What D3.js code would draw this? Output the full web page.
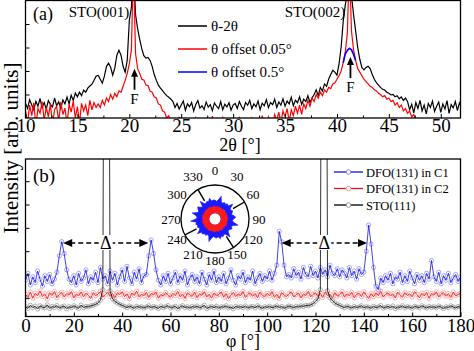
<!DOCTYPE html>
<html>
<head>
<meta charset="utf-8">
<script src="https://cdn.jsdelivr.net/npm/d3@7"></script>
<style>
body { margin: 0; background: #fff; }
</style>
</head>
<body>
<div id="chart"></div>
<script>
// ---- (a) 2theta scans: log10 intensity, one value every 0.2 deg from 10 deg
const scanStart = 10, scanStep = 0.2;
const theta2theta = [
  0.62,0.41,0.78,0.55,0.35,0.71,0.50,0.83,0.44,0.66,
  0.38,0.74,0.58,0.47,0.85,0.52,0.69,0.40,0.77,0.60,
  0.89,0.60,0.97,0.75,1.06,0.90,1.10,0.95,1.19,1.10,
  1.27,1.36,1.44,1.61,1.78,1.82,1.65,1.48,1.78,2.20,
  2.33,2.16,1.82,2.12,2.67,2.88,2.67,2.20,
  1.95,2.46,4.15,4.70,6.50,4.40,3.80,3.35,2.95,2.65,
  2.55,2.58,2.45,2.20,1.85,1.60,1.40,1.27,1.16,1.05,
  0.95,0.88,0.80,
  0.70,0.45,0.62,0.38,0.55,0.72,0.33,0.60,0.48,0.66,
  0.30,0.58,0.74,0.42,0.52,0.36,0.68,0.46,0.57,0.31,
  0.64,0.50,0.40,0.70,0.35,0.59,0.47,0.65,0.33,0.55,
  0.62,0.41,0.70,0.50,0.36,0.66,0.54,0.75,0.40,0.60,
  0.48,0.72,0.35,0.63,0.52,0.78,0.44,0.66,0.57,0.80,
  0.45,0.68,0.55,0.82,0.50,0.72,0.60,0.88,0.52,0.76,
  0.65,0.90,0.58,0.80,0.70,0.95,0.66,0.85,1.00,
  1.20,0.95,1.30,1.15,1.45,1.35,1.65,1.85,2.03,1.95,
  1.82,2.30,3.00,4.10,4.80,5.30,6.50,5.20,4.40,3.70,
  3.00,2.50,2.15,2.05,2.15,2.20,2.10,1.85,1.65,1.50,
  1.40,1.30,1.22,1.19,1.10,1.05,0.98,1.00,0.90,0.95,
  0.82,0.90,0.75,0.85,
  0.70,0.35,0.58,0.22,0.66,0.41,0.75,0.30,0.55,0.18,
  0.62,0.45,0.72,0.28,0.50,0.68,0.24,0.60,0.38,0.74,
  0.20,0.57,0.43,0.70,0.32,0.64,0.47
];
const thetaOffset005 = [
  0.30,-0.20,0.55,0.10,0.65,-0.35,0.40,0.20,0.70,-0.10,
  0.45,0.05,0.60,-0.30,0.35,0.50,-0.15,0.68,0.15,0.42,
  -0.25,0.58,0.25,0.72,0.00,0.48,-0.20,0.62,0.30,0.55,
  0.10,0.75,0.35,0.66,0.45,
  0.60,0.45,0.75,0.55,0.85,0.70,1.00,0.80,1.05,0.90,
  1.15,1.10,1.35,1.60,1.90,2.30,2.90,6.50,2.75,2.10,
  1.90,1.65,1.62,1.40,1.38,1.15,1.10,0.90,0.85,0.60,
  0.55,0.30,0.25,0.00,0.10,-0.20,
  -0.30,-0.10,-0.45,0.05,-0.25,-0.50,-0.05,-0.35,-0.15,-0.55,
  -0.20,0.00,-0.40,-0.10,-0.30,-0.60,-0.05,-0.25,-0.45,0.08,
  -0.35,-0.15,-0.50,-0.20,0.02,-0.40,-0.10,-0.30,-0.55,-0.05,
  -0.25,-0.45,0.05,-0.30,-0.15,-0.50,-0.10,-0.35,0.00,-0.20,
  -0.40,-0.05,-0.30,0.10,-0.25,-0.45,0.05,-0.15,-0.35,0.15,
  -0.10,0.25,-0.20,0.30,0.05,0.40,-0.15,0.35,0.10,0.50,
  0.20,0.55,0.15,0.60,0.40,0.75,0.50,0.85,0.70,1.00,
  0.85,1.10,0.95,1.20,1.10,1.30,1.25,1.45,1.50,1.65,
  1.80,2.00,2.35,2.80,3.60,6.50,3.70,2.90,2.45,2.10,
  1.95,1.80,1.65,1.55,1.45,1.35,1.30,1.20,1.15,1.05,
  1.00,0.90,0.95,0.80,0.85,0.70,0.75,
  0.55,0.65,0.45,0.55,0.30,0.40,0.20,0.30,0.05,0.15,
  -0.10,-0.30,0.00,-0.45,-0.20,-0.50,-0.10,-0.35,-0.55,-0.25,-0.40,
  -0.15,-0.50,-0.30,-0.60,-0.20,-0.45,-0.10,-0.35,-0.50,-0.25,-0.40,-0.30
];
const blueStart = 40.6;
const thetaOffset05 = [2.35,2.72,2.88,2.97,2.90,2.70,2.45];

const seriesA = ["θ-2θ", "θ offset 0.05°", "θ offset 0.5°"];
const colorsA = ["#000000", "#ff0000", "#0000ff"];
const ticksA = [10,15,20,25,30,35,40,45,50];
const minorA = [12.5,17.5,22.5,27.5,32.5,37.5,42.5,47.5];

// ---- (b) phi scans: one value per degree, 0..180
const phiStep = 1;
const dfoC1 = [
  1.75,2.05,1.55,1.90,1.65,2.15,1.80,1.50,1.95,1.70,
  2.00,1.60,1.80,2.10,2.80,3.41,2.90,2.20,1.80,1.65,
  1.95,1.55,2.05,1.70,1.85,2.20,1.60,1.90,1.75,2.10,
  1.65,2.30,1.80,1.95,1.60,2.15,1.75,2.05,1.55,1.90,
  2.20,1.70,2.35,1.85,1.60,2.10,1.80,2.25,1.65,1.95,
  2.00,2.80,3.48,2.90,2.20,1.75,1.55,1.95,1.70,2.05,
  1.60,1.85,2.10,1.65,1.95,1.75,2.15,1.55,1.85,2.00,
  1.70,1.90,1.60,2.10,1.80,1.55,2.00,1.75,2.15,1.65,
  1.90,1.70,2.05,1.60,1.85,2.20,1.75,1.55,1.95,1.80,
  2.10,1.65,1.90,1.75,2.15,1.60,1.85,2.05,1.70,1.95,
  1.80,2.15,1.75,2.05,2.40,3.85,3.40,2.40,1.90,2.00,
  1.85,2.25,1.95,2.10,1.80,2.30,2.00,1.90,2.35,1.95,
  2.15,1.85,2.30,2.00,2.20,1.90,2.40,2.05,1.95,2.25,
  1.90,2.20,2.05,1.85,2.30,1.95,2.15,1.80,2.25,2.00,
  2.10,3.00,4.12,3.30,2.30,1.50,1.35,1.85,1.65,1.95,
  1.75,2.05,1.60,1.90,1.80,2.10,1.65,1.95,1.70,2.15,
  1.85,1.60,2.00,1.75,1.95,1.65,2.05,1.80,2.60,1.90,
  1.70,2.10,1.60,1.95,1.75,2.05,1.65,1.85,2.00,1.70,1.90
];
const dfoC2 = [
  1.15,1.02,1.25,0.98,1.20,1.08,1.30,1.05,1.18,0.95,
  1.22,1.10,1.28,1.00,1.15,1.24,1.03,1.19,1.12,1.27,
  0.99,1.17,1.08,1.26,1.04,1.20,1.11,0.97,1.23,1.09,
  1.16,1.28,1.02,1.14,1.25,1.06,1.19,1.00,1.22,1.13,
  1.27,1.05,1.18,0.96,1.21,1.10,1.29,1.03,1.16,1.08,
  1.24,1.01,1.19,1.12,1.26,0.98,1.15,1.07,1.23,1.11,
  1.02,1.20,1.09,1.28,1.04,1.17,0.97,1.22,1.13,1.06,
  1.25,1.00,1.18,1.10,1.27,1.03,1.16,0.99,1.21,1.08,
  1.14,1.26,1.02,1.19,0.96,1.12,1.24,1.05,1.17,1.09,
  1.28,1.01,1.15,1.22,1.06,1.19,1.00,1.25,1.11,1.04,
  1.20,1.08,1.27,1.02,1.16,0.97,1.23,1.12,1.05,1.18,
  1.26,1.03,1.14,1.21,0.99,1.17,1.09,1.28,1.04,1.15,
  1.22,1.06,1.19,1.01,1.25,1.10,1.16,0.98,1.23,1.07,
  1.13,1.27,1.02,1.18,1.08,1.24,1.00,1.15,1.20,1.05,
  1.26,1.11,0.97,1.19,1.04,1.22,1.09,1.28,1.03,1.16,
  1.21,1.07,1.18,0.99,1.25,1.12,1.02,1.23,1.10,1.17,
  1.04,1.27,1.14,1.00,1.20,1.08,1.24,0.97,1.19,1.11,
  1.26,1.03,1.16,1.22,1.06,1.18,1.01,1.25,1.09,1.14,1.20
];
const sto111 = [
  0.62,0.55,0.68,0.58,0.64,0.52,0.66,0.60,0.57,0.70,
  0.54,0.63,0.59,0.67,0.56,0.61,0.65,0.53,0.62,0.58,
  0.66,0.60,0.55,0.69,0.58,0.63,0.61,0.66,0.68,0.72,
  0.78,0.90,1.35,30,30,1.30,0.95,0.85,0.78,0.72,
  0.68,0.63,0.58,0.65,0.60,0.55,0.64,0.59,0.62,0.56,
  0.61,0.66,0.57,0.63,0.60,0.54,0.65,0.58,0.62,0.67,
  0.56,0.60,0.64,0.53,0.61,0.66,0.58,0.62,0.55,0.63,
  0.59,0.65,0.57,0.61,0.68,0.54,0.60,0.63,0.58,0.64,
  0.55,0.62,0.60,0.66,0.57,0.61,0.53,0.64,0.59,0.62,
  0.58,0.65,0.56,0.61,0.63,0.57,0.66,0.60,0.55,0.62,
  0.59,0.64,0.57,0.61,0.66,0.58,0.63,0.55,0.60,0.65,
  0.62,0.57,0.64,0.60,0.66,0.63,0.68,0.66,0.70,0.75,
  0.85,0.95,1.35,30,30,1.30,1.00,0.88,0.78,0.72,
  0.68,0.62,0.58,0.65,0.60,0.56,0.63,0.59,0.61,0.66,
  0.57,0.62,0.60,0.55,0.64,0.58,0.61,0.67,0.56,0.60,
  0.63,0.58,0.65,0.54,0.61,0.59,0.66,0.57,0.62,0.60,
  0.55,0.64,0.60,0.58,0.66,0.61,0.56,0.63,0.59,0.62,
  0.57,0.65,0.60,0.54,0.62,0.58,0.66,0.61,0.56,0.63,0.60
];
const seriesB = ["DFO(131) in C1", "DFO(131) in C2", "STO(111)"];
const lineColorsB = ["#1010e0", "#ee1010", "#000000"];
const markColorsB = ["#8080ff", "#ff9090", "#909090"];
const ticksB = [0,20,40,60,80,100,120,140,160,180];
const minorB = [10,30,50,70,90,110,130,150,170];
const deltaSpans = [[15.6, 50.8], [106, 141.3]];
const deltaLevel = 3.35;

// ---- polar inset: one value every 5 deg
const polarStep = 5;
const polarC1 = [
  4.6,4.2,4.8,6.3,4.5,4.1,4.7,4.3,4.9,4.4,
  6.1,4.6,4.2,4.8,4.4,4.0,4.7,5.3,4.5,4.1,
  4.6,6.4,4.7,4.3,4.9,4.4,4.1,4.6,6.2,4.5,
  4.2,4.8,4.4,5.2,4.3,4.7,4.5,4.1,4.8,6.2,
  4.4,4.0,4.6,4.3,4.9,4.5,6.0,4.6,4.2,4.8,
  4.4,5.0,4.5,6.6,4.7,4.3,4.8,6.3,4.6,4.2,
  4.9,5.4,4.4,4.1,6.1,4.6,4.3,4.8,4.5,5.5,
  4.4,4.7
];
const polarC2 = [
  2.30,2.10,2.45,2.20,2.50,2.15,2.35,2.05,2.40,2.25,
  2.55,2.10,2.30,2.45,2.00,2.35,2.20,2.50,2.15,2.40,
  2.25,2.05,2.45,2.30,2.55,2.10,2.35,2.20,2.00,2.40,
  2.50,2.15,2.30,2.45,2.10,2.35,2.25,2.55,2.05,2.40,
  2.20,2.30,2.50,2.15,2.35,2.00,2.45,2.25,2.40,2.10,
  2.30,2.55,2.20,2.35,2.05,2.45,2.25,2.50,2.15,2.40,
  2.00,2.30,2.45,2.20,2.35,2.10,2.50,2.25,2.40,2.15,
  2.30,2.45
];
const stoPolarPeaks = [60, 147, 242, 330];
const polarLabels = [0,30,60,90,120,150,180,210,240,270,300,330];

// ---------------------------------------------------------------
const W = 474, H = 351;
const svg = d3.select("#chart").append("svg")
  .attr("width", W).attr("height", H);

// scales
const xA = d3.scaleLinear().domain([10, 51.9]).range([25.5, 460.5]);
const yA = d3.scaleLinear().domain([0, 5]).range([118, 0.5]);
const xB = d3.scaleLinear().domain([0, 180]).range([25.5, 460.5]);
const yB = d3.scaleLinear().domain([0.2, 6.95]).range([316.5, 159]);

const defs = svg.append("defs");
defs.append("clipPath").attr("id", "clipA").append("rect")
  .attr("x", 25.5).attr("y", 0.5).attr("width", 435).attr("height", 117.5);
defs.append("clipPath").attr("id", "clipB").append("rect")
  .attr("x", 25.5).attr("y", 159).attr("width", 435).attr("height", 157.5);

// ---------------- panel (a)
const gA = svg.append("g");
const plotA = gA.append("g").attr("clip-path", "url(#clipA)");

const lineA = start => d3.line()
  .x((d, i) => xA(start + i * scanStep))
  .y(d => yA(d));

plotA.append("path").datum(theta2theta)
  .attr("d", lineA(scanStart)).attr("fill", "none")
  .attr("stroke", colorsA[0]).attr("stroke-width", 1.2);
plotA.append("path").datum(thetaOffset005)
  .attr("d", lineA(scanStart)).attr("fill", "none")
  .attr("stroke", colorsA[1]).attr("stroke-width", 1.2);
plotA.append("path").datum(thetaOffset05)
  .attr("d", lineA(blueStart)).attr("fill", "none")
  .attr("stroke", colorsA[2]).attr("stroke-width", 1.6);

// axes (ticks point inward)
const axA = gA.append("g").attr("transform", "translate(0,118)")
  .call(d3.axisBottom(xA).tickValues(ticksA).tickSize(-4).tickPadding(0));
gA.append("g").attr("transform", "translate(0,118)")
  .call(d3.axisBottom(xA).tickValues(minorA).tickSize(-2.5).tickFormat(""));
gA.append("g").attr("transform", "translate(25.5,0)")
  .call(d3.axisLeft(yA).tickValues([1, 2, 3, 4]).tickSize(-4).tickFormat(""));
axA.selectAll("text").attr("font-size", 19);

gA.append("rect").attr("x", 25.5).attr("y", 0.5).attr("width", 435).attr("height", 117.5)
  .attr("fill", "none").attr("stroke", "#000").attr("stroke-width", 1.3);

gA.append("text").attr("x", 240).attr("y", 151).attr("text-anchor", "middle")
  .attr("font-size", 18).text("2θ [°]");
gA.append("text").attr("x", 33).attr("y", 20).attr("font-size", 18).text("(a)");
gA.append("text").attr("x", xA(20.0)).attr("y", 17).attr("text-anchor", "end")
  .attr("font-size", 15).text("STO(001)");
gA.append("text").attr("x", xA(40.8)).attr("y", 17).attr("text-anchor", "end")
  .attr("font-size", 15).text("STO(002)");

// F arrows
const fArrows = [{t: 20.5, tail: 1.2, tip: 2.1}, {t: 41.3, tail: 1.7, tip: 2.6}];
fArrows.forEach(f => {
  const x = xA(f.t), y0 = yA(f.tail), y1 = yA(f.tip);
  gA.append("line").attr("x1", x).attr("x2", x).attr("y1", y0).attr("y2", y1 + 6)
    .attr("stroke", "#000").attr("stroke-width", 1.8);
  gA.append("path").attr("d", `M${x},${y1}L${x - 3.5},${y1 + 8}L${x + 3.5},${y1 + 8}Z`)
    .attr("fill", "#000");
  gA.append("text").attr("x", x).attr("y", y0 + 14).attr("text-anchor", "middle")
    .attr("font-size", 15).text("F");
});

// legend (a)
seriesA.forEach((name, i) => {
  const y = 26 + i * 23;
  gA.append("line").attr("x1", 178).attr("x2", 207).attr("y1", y).attr("y2", y)
    .attr("stroke", colorsA[i]).attr("stroke-width", 1.5);
  gA.append("text").attr("x", 211).attr("y", y + 5)
    .attr("font-size", 15).text(name);
});

// ---------------- panel (b)
const gB = svg.append("g");
const plotB = gB.append("g").attr("clip-path", "url(#clipB)");
const lineB = d3.line().x((d, i) => xB(i * phiStep)).y(d => yB(d));

[dfoC1, dfoC2, sto111].forEach((arr, k) => {
  const s = plotB.append("g");
  s.selectAll("circle").data(arr).join("circle")
    .attr("cx", (d, i) => xB(i * phiStep)).attr("cy", d => yB(d)).attr("r", 2.1)
    .attr("fill", "none").attr("stroke", markColorsB[k]).attr("stroke-width", 0.7);
  s.append("path").datum(arr).attr("d", lineB).attr("fill", "none")
    .attr("stroke", lineColorsB[k]).attr("stroke-width", 0.8);
});

const axB = gB.append("g").attr("transform", "translate(0,316.5)")
  .call(d3.axisBottom(xB).tickValues(ticksB).tickSize(-4).tickPadding(2));
gB.append("g").attr("transform", "translate(0,316.5)")
  .call(d3.axisBottom(xB).tickValues(minorB).tickSize(-2.5).tickFormat(""));
gB.append("g").attr("transform", "translate(25.5,0)")
  .call(d3.axisLeft(yB).tickValues([1, 2, 3, 4, 5, 6]).tickSize(-4).tickFormat(""));
axB.selectAll("text").attr("font-size", 19);

[gA, gB].forEach(g => g.selectAll(".domain").remove());
svg.selectAll(".tick line").attr("stroke", "#000").attr("stroke-width", 1);

gB.append("rect").attr("x", 25.5).attr("y", 159).attr("width", 435).attr("height", 157.5)
  .attr("fill", "none").attr("stroke", "#000").attr("stroke-width", 1.3);

gB.append("text").attr("x", 243).attr("y", 347).attr("text-anchor", "middle")
  .attr("font-size", 18).text("φ [°]");
gB.append("text").attr("x", 33).attr("y", 182).attr("font-size", 19).text("(b)");

// delta arrows
deltaSpans.forEach(([a, b]) => {
  const x0 = xB(a), x1 = xB(b), y = yB(deltaLevel), xm = (x0 + x1) / 2;
  gB.append("line").attr("x1", x0 + 7).attr("x2", x1 - 7).attr("y1", y).attr("y2", y)
    .attr("stroke", "#000").attr("stroke-width", 1.3).attr("stroke-dasharray", "5,3");
  gB.append("path").attr("d", `M${x0},${y}L${x0 + 9},${y - 4}L${x0 + 9},${y + 4}Z`).attr("fill", "#000");
  gB.append("path").attr("d", `M${x1},${y}L${x1 - 9},${y - 4}L${x1 - 9},${y + 4}Z`).attr("fill", "#000");
  gB.append("rect").attr("x", xm - 7).attr("y", y - 8).attr("width", 14).attr("height", 15).attr("fill", "#fff");
  gB.append("text").attr("x", xm).attr("y", y + 6).attr("text-anchor", "middle")
    .attr("font-size", 18).text("Δ");
});

// legend (b)
seriesB.forEach((name, i) => {
  const y = 172 + i * 16.5;
  gB.append("line").attr("x1", 334).attr("x2", 363).attr("y1", y).attr("y2", y)
    .attr("stroke", lineColorsB[i]).attr("stroke-width", 1.3);
  gB.append("circle").attr("cx", 348.5).attr("cy", y).attr("r", 2.3)
    .attr("fill", "#fff").attr("stroke", markColorsB[i]).attr("stroke-width", 0.9);
  gB.append("text").attr("x", 366).attr("y", y + 4.5)
    .attr("font-size", 12.5).text(name);
});

// polar inset
const cx = 215, cy = 219;
const rP = d3.scaleLinear().domain([0, 10]).range([6, 34]);
const gP = svg.append("g").attr("transform", `translate(${cx},${cy})`);
const areaP = d3.areaRadial()
  .angle((d, i) => i * polarStep * Math.PI / 180)
  .innerRadius(rP(0)).outerRadius(d => rP(d))
  .curve(d3.curveLinearClosed);
gP.append("path").datum(polarC1).attr("d", areaP).attr("fill", "#1a1aff")
  .attr("stroke", "#1a1aff").attr("stroke-width", 0.6);
gP.append("path").datum(polarC2).attr("d", areaP).attr("fill", "#ff1a1a")
  .attr("stroke", "#ff1a1a").attr("stroke-width", 0.6);
stoPolarPeaks.forEach(a => {
  const t = a * Math.PI / 180;
  gP.append("line")
    .attr("x1", rP(5.3) * Math.sin(t)).attr("y1", -rP(5.3) * Math.cos(t))
    .attr("x2", rP(10) * Math.sin(t)).attr("y2", -rP(10) * Math.cos(t))
    .attr("stroke", "#000").attr("stroke-width", 1.4);
});
gP.append("circle").attr("r", rP(10)).attr("fill", "none")
  .attr("stroke", "#000").attr("stroke-width", 1.3);
polarLabels.forEach(a => {
  const t = a * Math.PI / 180;
  gP.append("text")
    .attr("x", 44 * Math.sin(t))
    .attr("y", -45 * Math.cos(t) - 4 * Math.abs(Math.cos(t)))
    .attr("dy", "0.35em").attr("text-anchor", "middle")
    .attr("font-size", 13).text(a);
});

// shared y label
svg.append("text")
  .attr("transform", "translate(18,148) rotate(-90)")
  .attr("text-anchor", "middle").attr("font-size", 21)
  .text("Intensity [arb. units]");

// serif everywhere (axis groups set their own family attribute)
svg.selectAll("g").attr("font-family", null);
svg.selectAll("text").attr("font-family", "Liberation Serif").attr("fill", "#000");
</script>
</body>
</html>
